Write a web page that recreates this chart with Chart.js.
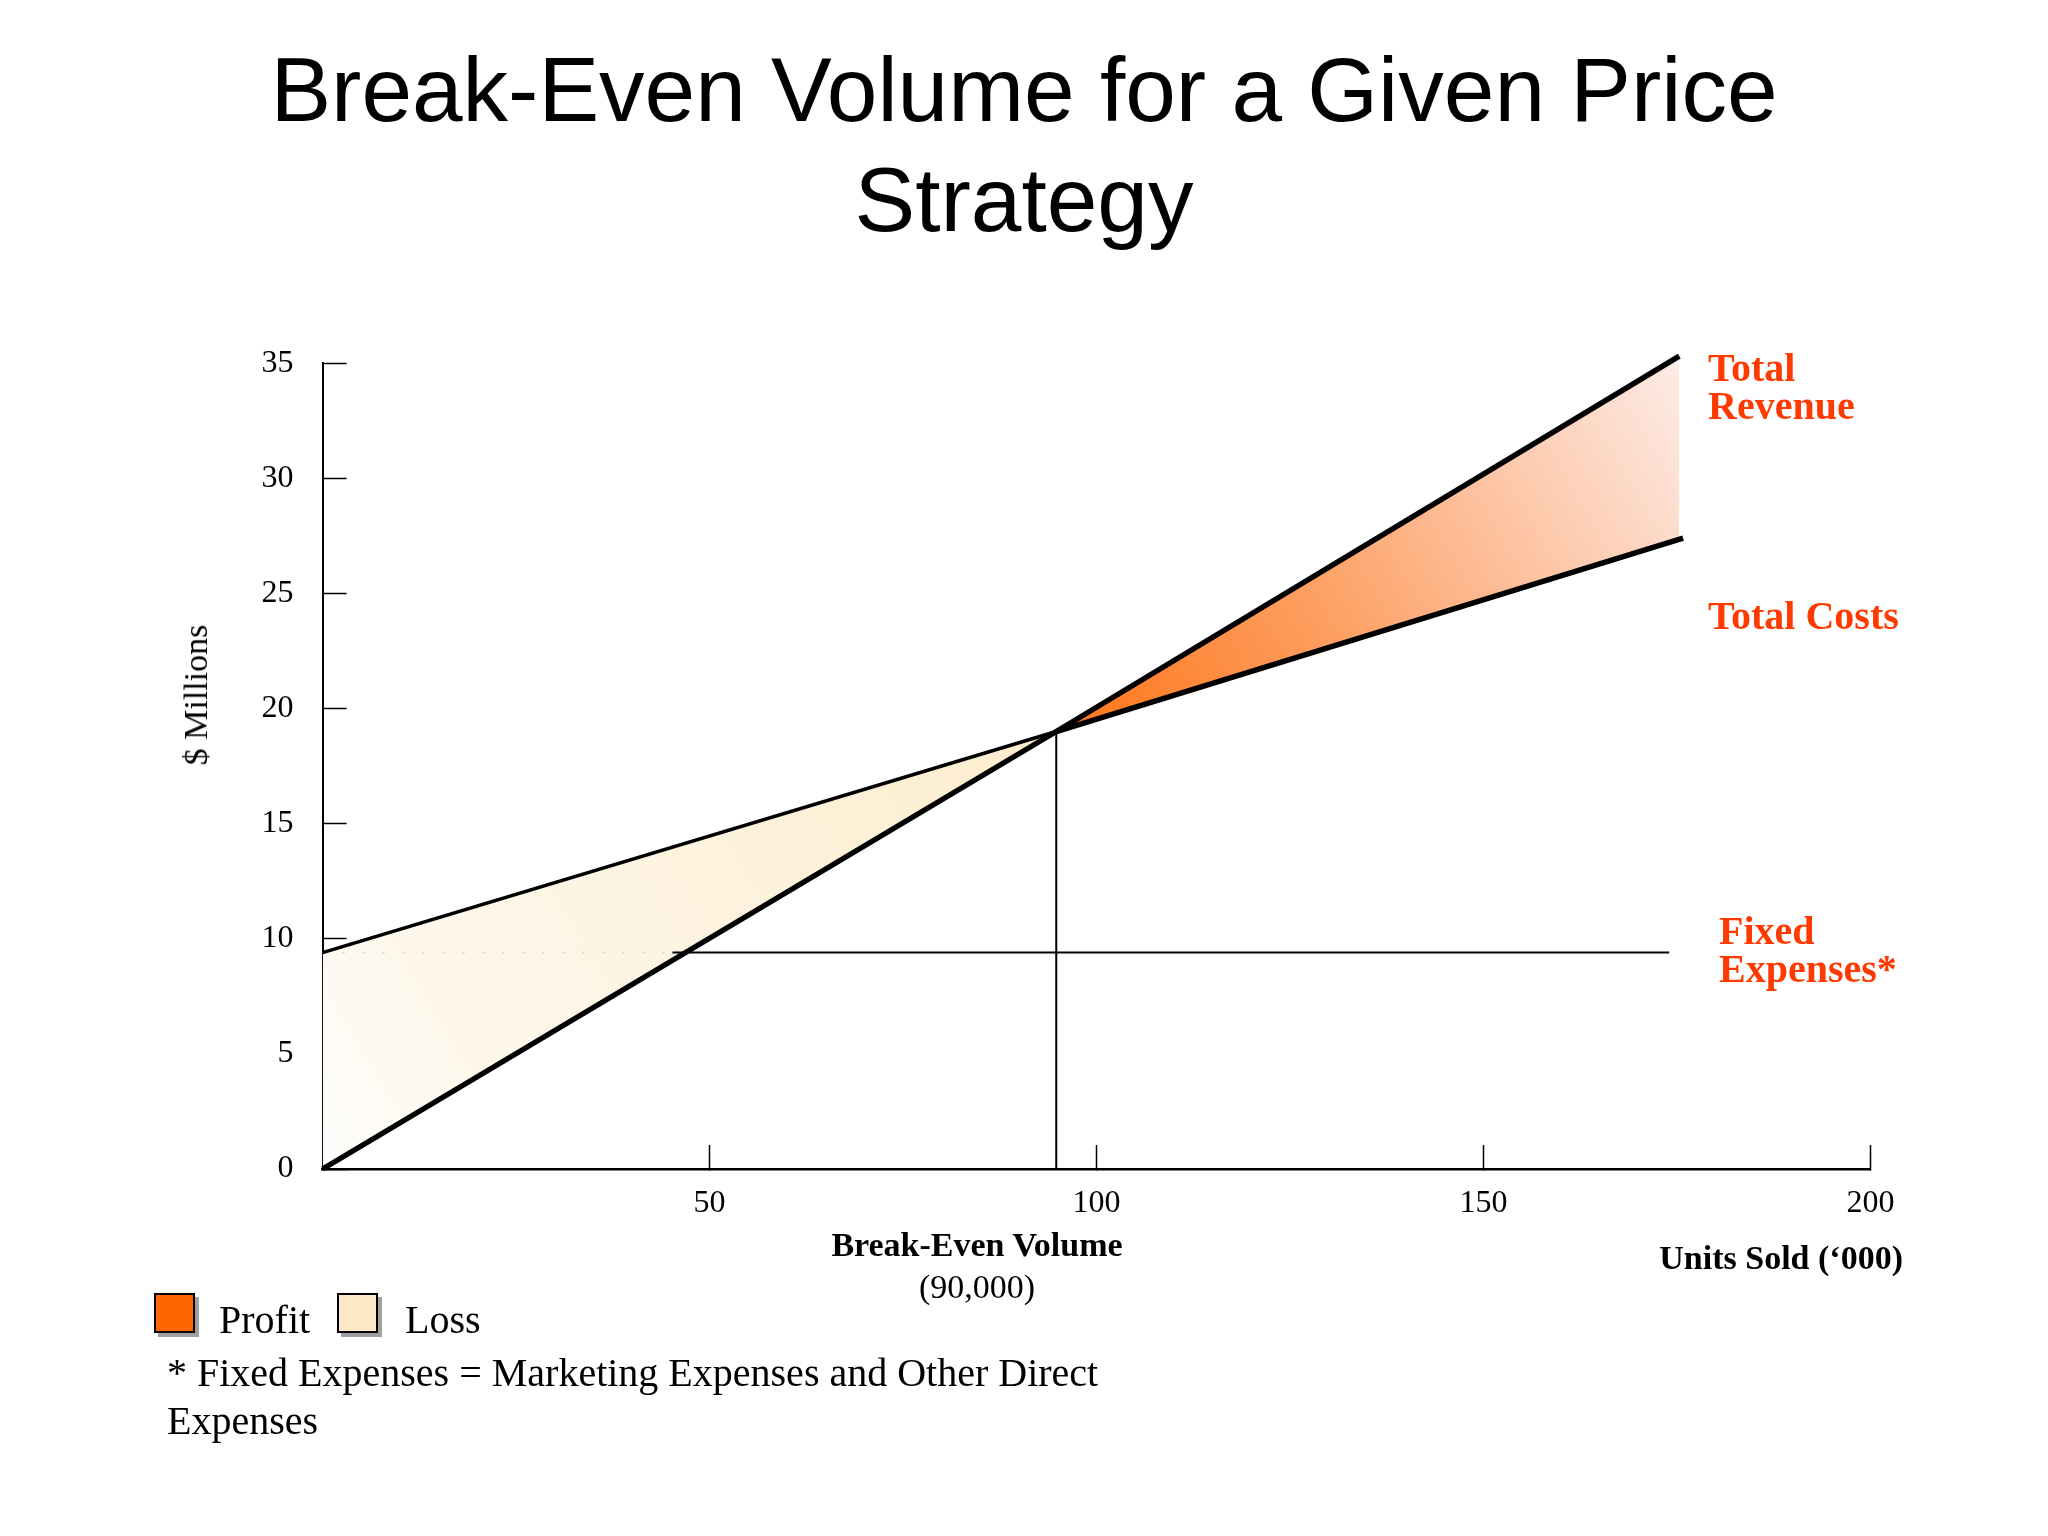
<!DOCTYPE html>
<html>
<head>
<meta charset="utf-8">
<title>Break-Even Volume for a Given Price Strategy</title>
<script src="https://cdn.jsdelivr.net/npm/chart.js@4.4.1/dist/chart.umd.min.js"></script>
<style>
  html, body { margin: 0; padding: 0; background: #fff; }
  #page { position: relative; width: 2048px; height: 1536px; overflow: hidden; background: #fff; }
  #chart { position: absolute; left: 0; top: 0; }
  .t { position: absolute; white-space: nowrap; line-height: 1; transform: translateY(-50%);
       font-family: "Liberation Serif", "Times New Roman", serif; color: #000; }
  .title { left: 0; width: 2048px; text-align: center; font-family: "Liberation Sans", Arial, sans-serif; font-size: 91px; }
  .red { color: #ff3a00; font-weight: bold; font-size: 40px; }
  .swatch { position: absolute; width: 37px; height: 36px; border: 2px solid #000; box-shadow: 4px 4px 0 #a0a0a0; }
</style>
</head>
<body>
<div id="page">
  <canvas id="chart" width="2048" height="1536"></canvas>

  <div class="t title" style="top:89px">Break-Even Volume for a Given Price</div>
  <div class="t title" style="top:199px">Strategy</div>

  <div class="t" style="left:196px; top:695px; font-size:34px; transform:translate(-50%,-50%) rotate(-90deg)">$ Millions</div>

  <div class="t" style="left:977px; top:1245px; font-size:34px; font-weight:bold; transform:translate(-50%,-50%)">Break-Even Volume</div>
  <div class="t" style="left:977px; top:1287px; font-size:34px; transform:translate(-50%,-50%)">(90,000)</div>
  <div class="t" style="right:145px; top:1258px; font-size:34px; font-weight:bold">Units Sold (‘000)</div>

  <div class="t red" style="left:1708px; top:368px">Total</div>
  <div class="t red" style="left:1708px; top:406px">Revenue</div>
  <div class="t red" style="left:1708px; top:616px">Total Costs</div>
  <div class="t red" style="left:1719px; top:931px">Fixed</div>
  <div class="t red" style="left:1719px; top:969px">Expenses*</div>

  <div class="swatch" style="left:154px; top:1293px; background:#ff6600"></div>
  <div class="t" style="left:219px; top:1320px; font-size:40px">Profit</div>
  <div class="swatch" style="left:337px; top:1293px; background:#fde9c6"></div>
  <div class="t" style="left:405px; top:1320px; font-size:40px">Loss</div>

  <div class="t" style="left:167px; top:1373px; font-size:40px">* Fixed Expenses = Marketing Expenses and Other Direct</div>
  <div class="t" style="left:167px; top:1421px; font-size:40px">Expenses</div>
</div>

<script>
// units sold ('000) against $ millions
const revenueUnits = [0, 94.8, 175.3];
const revenue = [0, 19.0, 35.3];
const costUnits = [0, 94.8, 175.8];
const totalCosts = [9.4, 19.0, 27.4];
const fixedUnits = [45.2, 174.0];
const fixedExpenses = [9.4, 9.4];
const fixedGuideUnits = [0, 45.2];
const fixedGuide = [9.4, 9.4];
const breakEvenUnits = [94.8, 94.8];
const breakEvenLevels = [0, 19.0];
const xTickValues = [50, 100, 150, 200];
const yTickValues = [0, 5, 10, 15, 20, 25, 30, 35];

const serif = '"Liberation Serif", "Times New Roman", serif';

function pts(xs, ys, from, to) {
  const out = [];
  for (let i = from; i < to; i++) out.push({ x: xs[i], y: ys[i] });
  return out;
}

// loss wedge fades from white at the origin to cream at break-even
function lossColour(c) {
  const chart = c.chart;
  if (!chart.chartArea) return '#fdf0da';
  const sx = chart.scales.x, sy = chart.scales.y;
  const g = chart.ctx.createLinearGradient(
    sx.getPixelForValue(0), sy.getPixelForValue(0),
    sx.getPixelForValue(revenueUnits[1]), sy.getPixelForValue(revenue[1]));
  g.addColorStop(0, '#fefdfc');
  g.addColorStop(0.2, '#fdf7ec');
  g.addColorStop(1, '#fdedcd');
  return g;
}

// profit wedge: strong orange at break-even, washing out to the upper right
function profitColour(c) {
  const chart = c.chart;
  if (!chart.chartArea) return '#fdae7a';
  const sx = chart.scales.x, sy = chart.scales.y;
  const g = chart.ctx.createLinearGradient(
    sx.getPixelForValue(revenueUnits[1]), sy.getPixelForValue(revenue[1]),
    sx.getPixelForValue(180), sy.getPixelForValue(36));
  g.addColorStop(0, '#ff7416');
  g.addColorStop(0.35, '#fd9c5c');
  g.addColorStop(0.7, '#fdcbb0');
  g.addColorStop(1, '#fdf3f2');
  return g;
}

const plain = { pointRadius: 0, pointHoverRadius: 0, tension: 0, fill: false, borderColor: '#000', clip: false, order: 0 };
// fill-only datasets get a higher order so they are painted behind the lines
const hidden = { pointRadius: 0, pointHoverRadius: 0, tension: 0, borderColor: 'transparent', borderWidth: 0, order: 1 };

new Chart(document.getElementById('chart'), {
  type: 'line',
  data: {
    datasets: [
      Object.assign({ label: 'Total Revenue', data: pts(revenueUnits, revenue, 0, 3), borderWidth: 5.5 }, plain),
      Object.assign({
        label: 'Total Costs', data: pts(costUnits, totalCosts, 0, 3), borderWidth: 5.5,
        segment: { borderWidth: s => s.p0DataIndex === 0 ? 3.5 : 5.5 }
      }, plain),
      Object.assign({ label: 'Fixed Expenses', data: pts(fixedUnits, fixedExpenses, 0, 2), borderWidth: 2 }, plain),
      Object.assign({ data: pts(fixedGuideUnits, fixedGuide, 0, 2), borderWidth: 1.5, borderDash: [2, 18] }, plain, { borderColor: 'rgba(190,180,170,0.6)' }),
      Object.assign({ label: 'Break-even', data: pts(breakEvenUnits, breakEvenLevels, 0, 2), borderWidth: 2 }, plain),

      // loss and profit wedges
      Object.assign({ data: pts(costUnits, totalCosts, 0, 2), fill: '+1', backgroundColor: lossColour }, hidden),
      Object.assign({ data: pts(revenueUnits, revenue, 0, 2), fill: false }, hidden),
      Object.assign({ data: pts(revenueUnits, revenue, 1, 3), fill: '+1', backgroundColor: profitColour }, hidden),
      Object.assign({ data: pts(costUnits, totalCosts, 1, 3), fill: false }, hidden)
    ]
  },
  options: {
    responsive: false,
    animation: false,
    devicePixelRatio: 1,
    layout: { padding: { left: 172.6, right: 177.6, top: 363.1, bottom: 307 } },
    plugins: { legend: { display: false }, tooltip: { enabled: false } },
    scales: {
      x: {
        type: 'linear', min: 0, max: 200,
        afterBuildTicks: s => { s.ticks = xTickValues.map(v => ({ value: v })); },
        afterFit: s => { s.height = 60; s.paddingLeft = 0; s.paddingRight = 0; },
        grid: { drawOnChartArea: false, drawTicks: true, tickLength: -24, tickColor: '#000', tickWidth: 1.5 },
        border: { color: '#000', width: 2.5 },
        ticks: { color: '#000', font: { family: serif, size: 32 }, padding: 39, maxRotation: 0, autoSkip: false }
      },
      y: {
        type: 'linear', min: 0, max: 35,
        afterBuildTicks: s => { s.ticks = yTickValues.map(v => ({ value: v })); },
        afterFit: s => { s.width = 150; s.paddingTop = 0; s.paddingBottom = 0; },
        grid: { drawOnChartArea: false, drawTicks: true, tickLength: -24, tickColor: '#000', tickWidth: 1.5 },
        border: { color: '#000', width: 2 },
        ticks: { color: '#000', font: { family: serif, size: 32 }, padding: 53, autoSkip: false }
      }
    }
  }
});
</script>
</body>
</html>
